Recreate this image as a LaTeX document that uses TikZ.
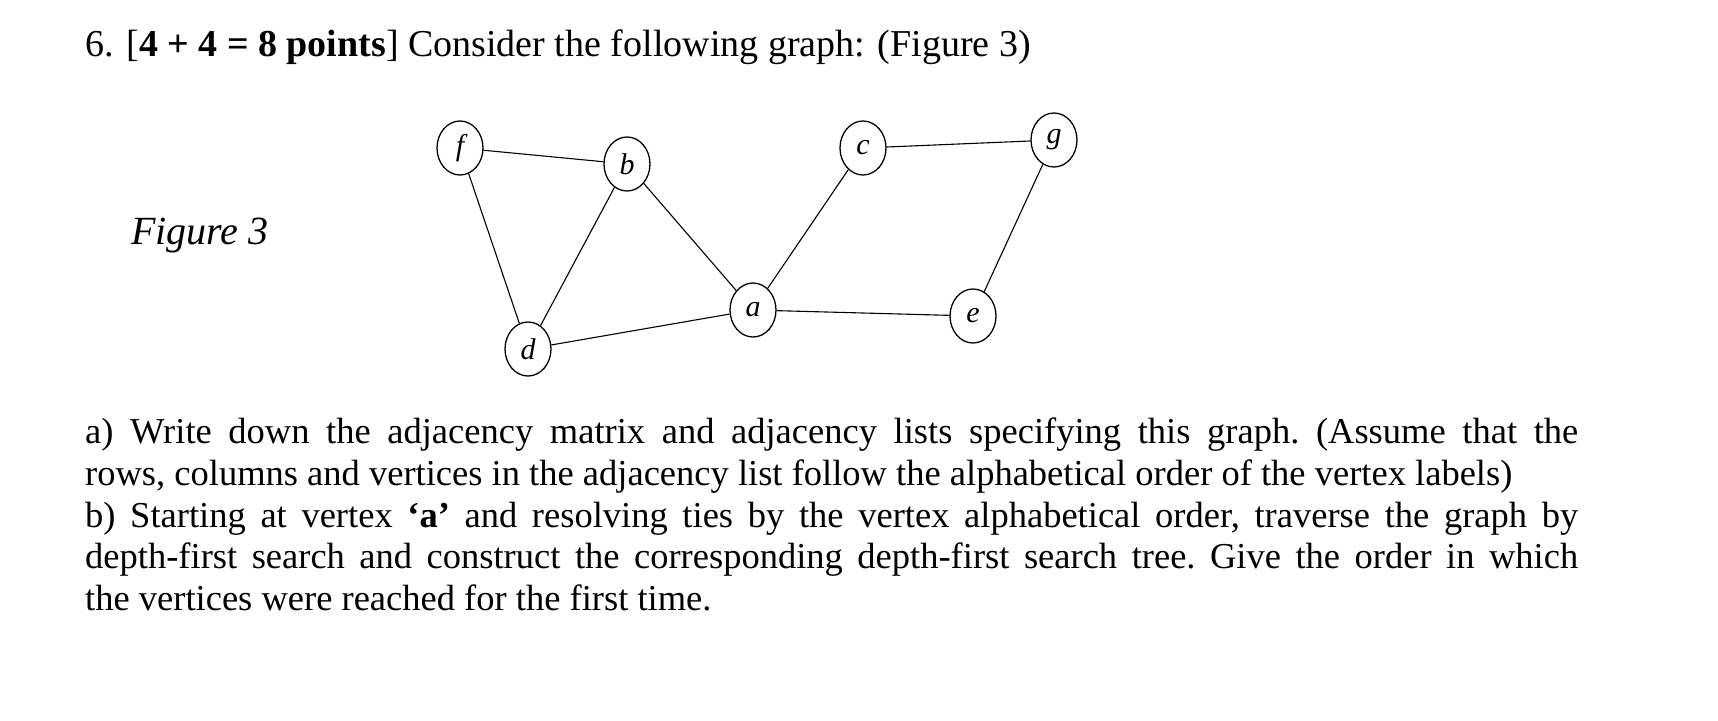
\documentclass[tikz,border=0pt]{standalone}
\usepackage{fontspec}
\setmainfont{Liberation Serif}
\usetikzlibrary{shapes.geometric}
\begin{document}
\begin{tikzpicture}[x=1pt,y=-1pt,
  vert/.style={draw,ellipse,line width=1.3pt,minimum width=46pt,minimum height=54pt,inner sep=0pt,font=\fontsize{30}{32}\selectfont\itshape},
  edge/.style={line width=1.1pt}]
\useasboundingbox (0,0) rectangle (1718,720);
\node[anchor=base west,inner sep=0pt,font=\fontsize{38}{42}\selectfont] (title) at (85,56) {6. [\textbf{4 + 4 = 8 points}] Consider the following graph: (Figure 3)};
\node[font=\fontsize{40}{42}\selectfont\itshape] (fig) at (200,236) {Figure 3};
\node[vert] (f) at (460,148) {f};
\node[vert] (b) at (627,164) {b};
\node[vert] (c) at (863,148) {c};
\node[vert] (g) at (1054,140) {g};
\node[vert] (d) at (528,349) {d};
\node[vert] (a) at (753,310) {a};
\node[vert] (e) at (973,316) {e};
\draw[edge] (f)--(b) (c)--(g) (f)--(d) (b)--(d) (b)--(a) (c)--(a) (g)--(e) (d)--(a) (a)--(e);
\node[anchor=north west,inner sep=0pt,font=\fontsize{36.5}{41.6}\selectfont] (txt) at (85,418) {\parbox{1493pt}{\frenchspacing%
a) Write down the adjacency matrix and adjacency lists specifying this graph. (Assume that the\linebreak
rows, columns and vertices in the adjacency list follow the alphabetical order of the vertex labels)\\
b) Starting at vertex \textbf{`a'} and resolving ties by the vertex alphabetical order, traverse the graph by\linebreak
depth-first search and construct the corresponding depth-first search tree. Give the order in which\linebreak
the vertices were reached for the first time.}};
\end{tikzpicture}
\end{document}
